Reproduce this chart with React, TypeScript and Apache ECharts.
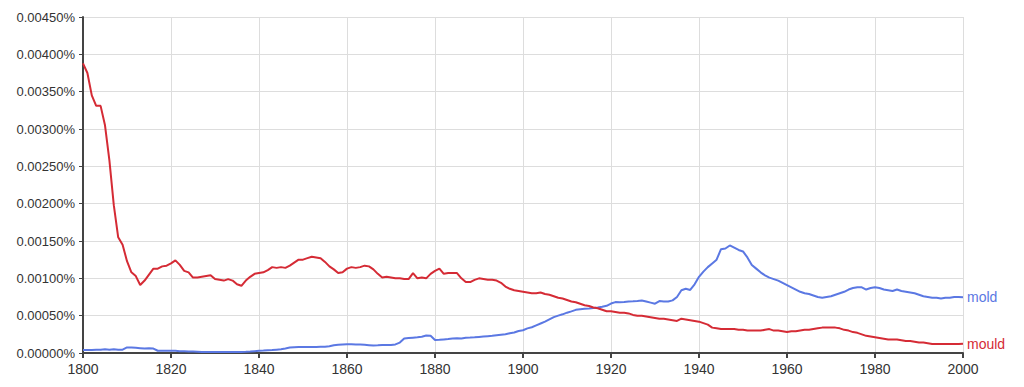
import React, { useEffect, useRef } from "react";
import * as echarts from "echarts";

const startYear = 1800;
const endYear = 2000;

const xTicks = [1800, 1820, 1840, 1860, 1880, 1900, 1920, 1940, 1960, 1980, 2000];
const yTicks = [0, 0.0005, 0.001, 0.0015, 0.002, 0.0025, 0.003, 0.0035, 0.004, 0.0045];

const seriesNames = ["mold", "mould"];

// values in percent, one per year from 1800 to 2000
const moldValues = [
  0.00004, 0.00004, 0.00004, 0.000045, 0.000045, 0.00005, 0.000045, 0.00005, 0.000045, 0.000045,
  0.000075, 0.000075, 0.00007, 0.000065, 0.00006, 0.000065, 0.00006, 0.00003, 0.00003, 0.00003,
  0.00003, 0.00003, 0.000025, 0.000025, 0.00002, 0.00002, 0.000018, 0.000015, 0.000015, 0.000012,
  0.000012, 0.000012, 0.000012, 0.000012, 0.000013, 0.000014, 0.000015, 0.000017, 0.00002, 0.000025,
  0.00003, 0.000033, 0.000037, 0.00004, 0.000045, 0.00005, 0.00006, 0.000073, 0.000078, 0.00008,
  0.00008, 0.00008, 0.00008, 0.000082, 0.000084, 0.000085, 0.00009, 0.000105, 0.00011, 0.000115,
  0.000116, 0.000116, 0.000115, 0.000113, 0.00011, 0.000105, 0.0001, 0.000103, 0.000107, 0.000107,
  0.000108, 0.000115, 0.00014, 0.000195, 0.0002, 0.000205, 0.00021, 0.000218, 0.000235, 0.000232,
  0.000175, 0.000176, 0.000182, 0.000188, 0.000195, 0.000197, 0.000195, 0.000205, 0.000207, 0.00021,
  0.000215, 0.00022, 0.000225, 0.00023, 0.000238, 0.000245, 0.000252, 0.000265, 0.000275, 0.000295,
  0.000305, 0.00033, 0.000345, 0.00037, 0.000395, 0.00042, 0.00045, 0.00048, 0.0005, 0.000518,
  0.00054, 0.000558, 0.000578, 0.000585, 0.000592, 0.000595, 0.000602, 0.00061, 0.00062, 0.000632,
  0.000662, 0.000682, 0.00068, 0.000682, 0.00069, 0.000693, 0.000697, 0.000702, 0.00069, 0.000675,
  0.00066, 0.000695, 0.00069, 0.00069, 0.000705, 0.00075, 0.00084, 0.00086, 0.000845, 0.00092,
  0.00102, 0.00109, 0.00115, 0.0012, 0.00125, 0.00139, 0.0014, 0.00144, 0.00141, 0.00138,
  0.00136, 0.00128, 0.00118, 0.00113, 0.00108, 0.00104, 0.00101, 0.00099, 0.00097, 0.00094,
  0.00091, 0.00088, 0.00085, 0.00082, 0.0008, 0.00079, 0.00077, 0.00075, 0.00074, 0.00075,
  0.00076, 0.00078, 0.0008, 0.00082, 0.00085, 0.00087, 0.00088, 0.00088, 0.00085, 0.00087,
  0.00088, 0.00087, 0.00085, 0.00084, 0.00083, 0.00085, 0.00083, 0.00082, 0.00081, 0.0008,
  0.00078, 0.00076, 0.00075, 0.00074, 0.00074, 0.00073, 0.00074, 0.00074, 0.00075, 0.00075,
  0.000746,
];

const mouldValues = [
  0.00388, 0.00375, 0.00345, 0.00331, 0.00331, 0.00305, 0.00258, 0.00198, 0.00155, 0.00145,
  0.00123, 0.00108, 0.00103, 0.00091, 0.00097, 0.00105, 0.00113, 0.00113, 0.00116, 0.00117,
  0.0012, 0.00124, 0.00118, 0.0011, 0.00108, 0.00101, 0.00101, 0.00102, 0.00103, 0.00104,
  0.00099, 0.00098, 0.00097, 0.00099, 0.00097, 0.00092, 0.0009, 0.00097, 0.00102, 0.00106,
  0.00107, 0.00108, 0.00111, 0.00115, 0.00114, 0.00115, 0.00114, 0.00117, 0.00121, 0.00125,
  0.00125, 0.00127, 0.00129, 0.00128, 0.00127, 0.00122, 0.00116, 0.00112, 0.00107, 0.00108,
  0.00113, 0.00115, 0.00114, 0.00115, 0.00117, 0.00116, 0.00112, 0.00106, 0.00101, 0.00102,
  0.00101, 0.001, 0.001, 0.00099, 0.00099, 0.00107, 0.001, 0.00101, 0.001, 0.00106,
  0.0011, 0.00113, 0.00106, 0.00107, 0.00107, 0.00107, 0.001, 0.00095, 0.00095, 0.00098,
  0.001, 0.00099, 0.00098, 0.00098, 0.00097, 0.00094, 0.00089, 0.00086, 0.00084, 0.00083,
  0.00082, 0.00081, 0.0008, 0.0008, 0.00081, 0.00079, 0.00078, 0.00076, 0.00074, 0.00073,
  0.00071, 0.00069, 0.00068, 0.00066, 0.00064, 0.00063, 0.00061, 0.0006, 0.00058, 0.00056,
  0.00056, 0.00055, 0.00054, 0.00054, 0.00053, 0.00051, 0.0005, 0.0005, 0.00049, 0.00048,
  0.00047, 0.00046, 0.00046, 0.00045, 0.00044, 0.00043, 0.00046, 0.00045, 0.00044, 0.00043,
  0.00042, 0.0004, 0.00038, 0.00034, 0.00033, 0.00032, 0.00032, 0.00032, 0.00032, 0.00031,
  0.00031, 0.0003, 0.0003, 0.0003, 0.0003, 0.00031, 0.00032, 0.0003, 0.0003, 0.00029,
  0.00028, 0.00029, 0.00029, 0.0003, 0.00031, 0.00031, 0.00032, 0.00033, 0.00034, 0.00034,
  0.00034, 0.00034, 0.00033, 0.00031, 0.0003, 0.00028, 0.00027, 0.00025, 0.00023, 0.00022,
  0.00021, 0.0002, 0.00019, 0.00018, 0.00018, 0.00018, 0.00017, 0.00016, 0.00016, 0.00015,
  0.00014, 0.00014, 0.00013, 0.00012, 0.00012, 0.00012, 0.00012, 0.00012, 0.00012, 0.00012,
  0.000125,
];

const colors = ["#5b78e3", "#d52b35"];

export default function App() {
  const ref = useRef<HTMLDivElement>(null);

  useEffect(() => {
    document.body.style.margin = "0";
    if (!ref.current) return;
    const chart = echarts.init(ref.current, undefined, { renderer: "svg" });
    const toPairs = (vals: number[]) => vals.map((v, i) => [startYear + i, v]);
    const font = "Liberation Sans, Arial, sans-serif";
    chart.setOption({
      animation: false,
      backgroundColor: "#ffffff",
      grid: { left: 83, right: 61, top: 17, bottom: 34, containLabel: false },
      xAxis: {
        type: "value",
        min: startYear,
        max: endYear,
        interval: 20,
        axisLine: { show: true, onZero: false, lineStyle: { color: "#444", width: 2 } },
        axisTick: { show: true, length: 5, lineStyle: { color: "#444", width: 2 } },
        axisLabel: {
          color: "#333",
          fontSize: 14,
          fontFamily: font,
          margin: 9,
          formatter: (v: number) => (xTicks.includes(v) ? String(v) : ""),
        },
        splitLine: { show: true, lineStyle: { color: "#dddddd", width: 1 } },
      },
      yAxis: {
        type: "value",
        min: yTicks[0],
        max: yTicks[yTicks.length - 1],
        interval: 0.0005,
        axisLine: { show: true, lineStyle: { color: "#444", width: 2 } },
        axisTick: { show: true, length: 4, lineStyle: { color: "#444", width: 1 } },
        axisLabel: {
          color: "#333",
          fontSize: 13,
          fontFamily: font,
          margin: 8,
          formatter: (v: number) => v.toFixed(5) + "%",
        },
        splitLine: { show: true, lineStyle: { color: "#dddddd", width: 1 } },
      },
      series: [
        {
          name: seriesNames[0],
          type: "line",
          data: toPairs(moldValues),
          showSymbol: false,
          symbol: "none",
          lineStyle: { color: colors[0], width: 2 },
          itemStyle: { color: colors[0] },
          endLabel: {
            show: true,
            formatter: "{a}",
            color: colors[0],
            fontSize: 14,
            fontFamily: font,
            distance: 4,
          },
        },
        {
          name: seriesNames[1],
          type: "line",
          data: toPairs(mouldValues),
          showSymbol: false,
          symbol: "none",
          lineStyle: { color: colors[1], width: 2 },
          itemStyle: { color: colors[1] },
          endLabel: {
            show: true,
            formatter: "{a}",
            color: colors[1],
            fontSize: 14,
            fontFamily: font,
            distance: 4,
          },
        },
      ],
    });
    return () => chart.dispose();
  }, []);

  return <div ref={ref} style={{ width: 1024, height: 387 }} />;
}
